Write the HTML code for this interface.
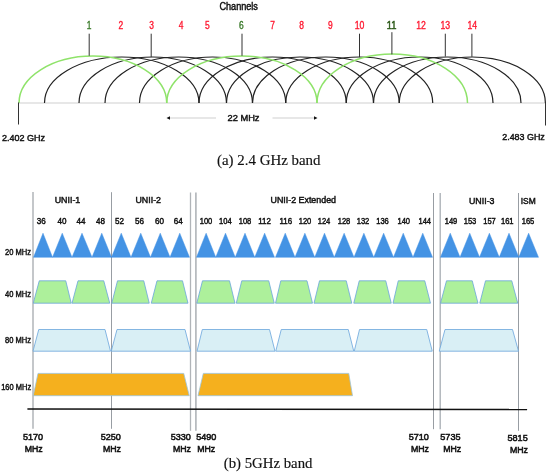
<!DOCTYPE html>
<html><head><meta charset="utf-8"><title>WiFi channels</title>
<style>html,body{margin:0;padding:0;background:#fff}svg{display:block}.s{font-family:"Liberation Sans",Arial,sans-serif;fill:#111;stroke:#111;stroke-width:.45px}.r{font-family:"Liberation Serif","Times New Roman",serif;fill:#111;stroke:#111;stroke-width:.15px}</style></head><body>
<svg width="548" height="472" viewBox="0 0 548 472">
<rect width="548" height="472" fill="#fff"/>
<line x1="18" y1="103" x2="546" y2="103" stroke="#cfcfcf" stroke-width="1"/>
<path d="M44.5 103A77.25 46 0 0 1 199 103" fill="none" stroke="#222" stroke-width="1.2"/>
<path d="M79 103A73.75 46 0 0 1 226.5 103" fill="none" stroke="#222" stroke-width="1.2"/>
<path d="M105 103A73.75 46 0 0 1 252.5 103" fill="none" stroke="#222" stroke-width="1.2"/>
<path d="M139.5 103A73.125 46 0 0 1 285.75 103" fill="none" stroke="#222" stroke-width="1.2"/>
<path d="M199 103A73.625 46 0 0 1 346.25 103" fill="none" stroke="#222" stroke-width="1.2"/>
<path d="M226.5 103A73.5 46 0 0 1 373.5 103" fill="none" stroke="#222" stroke-width="1.2"/>
<path d="M252.5 103A73.375 46 0 0 1 399.25 103" fill="none" stroke="#222" stroke-width="1.2"/>
<path d="M285.75 103A73.5 46 0 0 1 432.75 103" fill="none" stroke="#222" stroke-width="1.2"/>
<path d="M346.25 103A73.375 46 0 0 1 493 103" fill="none" stroke="#222" stroke-width="1.2"/>
<path d="M373.5 103A73.75 46 0 0 1 521 103" fill="none" stroke="#222" stroke-width="1.2"/>
<path d="M399.25 103A73.07499999999999 46 0 0 1 545.4 103" fill="none" stroke="#222" stroke-width="1.2"/>
<path d="M19 103A73.875 47 0 0 1 166.75 103" fill="none" stroke="#8fe36a" stroke-width="1.5"/>
<path d="M166.75 103A75.125 47 0 0 1 317 103" fill="none" stroke="#8fe36a" stroke-width="1.5"/>
<path d="M317 103A75.25 49 0 0 1 467.5 103" fill="none" stroke="#8fe36a" stroke-width="1.5"/>
<line x1="89.2" y1="33.7" x2="89.2" y2="55.8" stroke="#333" stroke-width="1"/>
<line x1="151.2" y1="33.7" x2="151.2" y2="57" stroke="#333" stroke-width="1"/>
<line x1="242" y1="33.7" x2="242" y2="55.8" stroke="#333" stroke-width="1"/>
<line x1="359.5" y1="33.7" x2="359.5" y2="57.2" stroke="#333" stroke-width="1"/>
<line x1="391.9" y1="32.2" x2="391.9" y2="54.4" stroke="#333" stroke-width="1"/>
<line x1="445.3" y1="33.7" x2="445.3" y2="56.6" stroke="#333" stroke-width="1"/>
<line x1="471.9" y1="33.7" x2="471.9" y2="56.8" stroke="#333" stroke-width="1"/>
<line x1="18.5" y1="102.5" x2="18.5" y2="124.5" stroke="#333" stroke-width="1"/>
<line x1="545.5" y1="102.5" x2="545.5" y2="125.5" stroke="#333" stroke-width="1"/>
<text class="s" x="89" y="28.8" font-size="10.3" text-anchor="middle" textLength="4.7" lengthAdjust="spacingAndGlyphs" style="fill:#3a7a2a;stroke:#3a7a2a;stroke-width:.35px">1</text>
<text class="s" x="120.8" y="28.8" font-size="10.3" text-anchor="middle" textLength="4.7" lengthAdjust="spacingAndGlyphs" style="fill:#ff1830;stroke:#ff1830;stroke-width:.35px">2</text>
<text class="s" x="151.5" y="28.8" font-size="10.3" text-anchor="middle" textLength="4.7" lengthAdjust="spacingAndGlyphs" style="fill:#ff1830;stroke:#ff1830;stroke-width:.35px">3</text>
<text class="s" x="181" y="28.8" font-size="10.3" text-anchor="middle" textLength="4.7" lengthAdjust="spacingAndGlyphs" style="fill:#ff1830;stroke:#ff1830;stroke-width:.35px">4</text>
<text class="s" x="207.3" y="28.8" font-size="10.3" text-anchor="middle" textLength="4.7" lengthAdjust="spacingAndGlyphs" style="fill:#ff1830;stroke:#ff1830;stroke-width:.35px">5</text>
<text class="s" x="241.3" y="28.8" font-size="10.3" text-anchor="middle" textLength="4.7" lengthAdjust="spacingAndGlyphs" style="fill:#3a7a2a;stroke:#3a7a2a;stroke-width:.35px">6</text>
<text class="s" x="272.5" y="28.8" font-size="10.3" text-anchor="middle" textLength="4.7" lengthAdjust="spacingAndGlyphs" style="fill:#ff1830;stroke:#ff1830;stroke-width:.35px">7</text>
<text class="s" x="301.6" y="28.8" font-size="10.3" text-anchor="middle" textLength="4.7" lengthAdjust="spacingAndGlyphs" style="fill:#ff1830;stroke:#ff1830;stroke-width:.35px">8</text>
<text class="s" x="330.4" y="28.8" font-size="10.3" text-anchor="middle" textLength="4.7" lengthAdjust="spacingAndGlyphs" style="fill:#ff1830;stroke:#ff1830;stroke-width:.35px">9</text>
<text class="s" x="359.6" y="28.8" font-size="10.3" text-anchor="middle" textLength="9.7" lengthAdjust="spacingAndGlyphs" style="fill:#ff1830;stroke:#ff1830;stroke-width:.35px">10</text>
<text class="s" x="391.5" y="28.8" font-size="10.3" text-anchor="middle" textLength="9.7" lengthAdjust="spacingAndGlyphs" style="fill:#2d5a1a;stroke:#2d5a1a;stroke-width:.5px">11</text>
<text class="s" x="421" y="28.8" font-size="10.3" text-anchor="middle" textLength="9.7" lengthAdjust="spacingAndGlyphs" style="fill:#ff1830;stroke:#ff1830;stroke-width:.35px">12</text>
<text class="s" x="445.3" y="28.8" font-size="10.3" text-anchor="middle" textLength="9.7" lengthAdjust="spacingAndGlyphs" style="fill:#ff1830;stroke:#ff1830;stroke-width:.35px">13</text>
<text class="s" x="472.3" y="28.8" font-size="10.3" text-anchor="middle" textLength="9.7" lengthAdjust="spacingAndGlyphs" style="fill:#ff1830;stroke:#ff1830;stroke-width:.35px">14</text>
<text class="s" x="238.7" y="9.5" font-size="10" text-anchor="middle" textLength="38.5" lengthAdjust="spacingAndGlyphs">Channels</text>
<line x1="168" y1="118" x2="216" y2="118" stroke="#cfcfcf" stroke-width="1"/><path d="M166.5 118l3.5-1.8v3.6z" fill="#111"/>
<line x1="272.5" y1="118" x2="316" y2="118" stroke="#cfcfcf" stroke-width="1"/><path d="M317.5 118l-3.5-1.8v3.6z" fill="#111"/>
<text class="s" x="243.5" y="121.3" font-size="9.2" text-anchor="middle" textLength="32" lengthAdjust="spacingAndGlyphs">22 MHz</text>
<text class="s" x="23.5" y="140.8" font-size="9.2" text-anchor="middle" textLength="43" lengthAdjust="spacingAndGlyphs">2.402 GHz</text>
<text class="s" x="523.5" y="139.8" font-size="9.2" text-anchor="middle" textLength="42.5" lengthAdjust="spacingAndGlyphs">2.483 GHz</text>
<text class="r" x="268.75" y="164.5" font-size="14.8" text-anchor="middle" textLength="103.5" lengthAdjust="spacingAndGlyphs">(a) 2.4 GHz band</text>
<line x1="33" y1="192" x2="33" y2="428.8" stroke="#b0b4b8" stroke-width="1.5"/>
<line x1="111.5" y1="192.2" x2="111.5" y2="428.8" stroke="#8c9298" stroke-width="0.9"/>
<line x1="190.5" y1="192.5" x2="190.5" y2="430.8" stroke="#b0b4b8" stroke-width="1.3"/>
<line x1="195.9" y1="192.5" x2="195.9" y2="430.8" stroke="#b4b8bc" stroke-width="1.7"/>
<line x1="433.5" y1="193" x2="433.5" y2="429.2" stroke="#8c9298" stroke-width="0.9"/>
<line x1="440.2" y1="193" x2="440.2" y2="429.2" stroke="#a8aeb4" stroke-width="1.3"/>
<line x1="518.5" y1="193" x2="518.5" y2="430.8" stroke="#8c9298" stroke-width="0.9"/>
<path d="M33.5 257.3L43.0 233.2L52.5 257.3ZM52.5 257.3L62.25 233.2L72 257.3ZM72 257.3L82.0 233.2L92 257.3ZM92 257.3L101.75 233.2L111.5 257.3ZM111.5 257.3L121.25 233.2L131 257.3ZM131 257.3L140.75 233.2L150.5 257.3ZM150.5 257.3L160.25 233.2L170 257.3ZM170 257.3L179.75 233.2L189.5 257.3ZM196.5 257.3L206.125 233.2L215.75 257.3ZM215.75 257.3L225.5 233.2L235.25 257.3ZM235.25 257.3L245.0 233.2L254.75 257.3ZM254.75 257.3L264.625 233.2L274.5 257.3ZM275.5 257.3L285.25 233.2L295 257.3ZM295 257.3L304.875 233.2L314.75 257.3ZM314.75 257.3L324.5 233.2L334.25 257.3ZM334.25 257.3L344.125 233.2L354 257.3ZM354 257.3L363.875 233.2L373.75 257.3ZM373.75 257.3L383.625 233.2L393.5 257.3ZM393.5 257.3L403.25 233.2L413 257.3ZM413 257.3L422.75 233.2L432.5 257.3ZM440.5 257.3L450.25 233.2L460 257.3ZM460 257.3L469.75 233.2L479.5 257.3ZM479.5 257.3L489.375 233.2L499.25 257.3ZM499.25 257.3L509.0 233.2L518.75 257.3ZM518.75 257.3L528.625 233.2L538.5 257.3Z" fill="#4493e4" stroke="#4493e4" stroke-width="0.5"/>
<path d="M33.25 303.2L39.25 280.8L65.75 280.8L71.25 303.2ZM72 303.2L78 280.8L103.75 280.8L109.75 303.2ZM111.75 303.2L117.5 280.8L143.75 280.8L149.25 303.2ZM151.25 303.2L157 280.8L182.5 280.8L188 303.2ZM196.75 303.2L202.5 280.8L229.5 280.8L235 303.2ZM236.25 303.2L241.75 280.8L268.75 280.8L274.25 303.2ZM275.5 303.2L280.75 280.8L307 280.8L312.5 303.2ZM314 303.2L319.5 280.8L346.25 280.8L351.75 303.2ZM353.75 303.2L359.25 280.8L385.75 280.8L391.25 303.2ZM393 303.2L398.25 280.8L424.75 280.8L430.5 303.2ZM440.5 303.2L446.5 280.8L472.25 280.8L478 303.2ZM479.75 303.2L485.5 280.8L511.75 280.8L517.75 303.2Z" fill="#adf09b" stroke="#6aa5dc" stroke-width="0.8"/>
<path d="M33 351.2L38.75 329.5L105 329.5L110.5 351.2ZM111.25 351.2L117 329.5L185 329.5L190.5 351.2ZM197 351.2L202.3 329.5L269.5 329.5L275 351.2ZM275.75 351.2L281.25 329.5L348.25 329.5L353.75 351.2ZM354.25 351.2L359.5 329.5L426.75 329.5L432.25 351.2ZM439.25 351.2L445 329.5L512.5 329.5L518.5 351.2Z" fill="#d9eff5" stroke="#6aa5dc" stroke-width="0.8"/>
<path d="M33.25 395.7L38 373.4L183.75 373.4L189.25 395.7ZM198 395.7L203.3 373.4L348.75 373.4L352.5 395.7Z" fill="#f5b01e" stroke="#9cc4dc" stroke-width="0.8"/>
<line x1="27.4" y1="408.9" x2="527.1" y2="409.6" stroke="#111" stroke-width="1.5"/>
<text class="s" x="67.5" y="203.4" font-size="8.8" text-anchor="middle" textLength="25.5" lengthAdjust="spacingAndGlyphs">UNII-1</text>
<text class="s" x="148.25" y="203.4" font-size="8.8" text-anchor="middle" textLength="25.5" lengthAdjust="spacingAndGlyphs">UNII-2</text>
<text class="s" x="303.25" y="203.4" font-size="8.8" text-anchor="middle" textLength="65.5" lengthAdjust="spacingAndGlyphs">UNII-2 Extended</text>
<text class="s" x="481.75" y="204.2" font-size="8.8" text-anchor="middle" textLength="25.5" lengthAdjust="spacingAndGlyphs">UNII-3</text>
<text class="s" x="528.25" y="204.2" font-size="8.8" text-anchor="middle" textLength="15" lengthAdjust="spacingAndGlyphs">ISM</text>
<text class="s" x="41.25" y="224.0" font-size="8.6" text-anchor="middle" textLength="9.0" lengthAdjust="spacingAndGlyphs">36</text>
<text class="s" x="62" y="224.0" font-size="8.6" text-anchor="middle" textLength="9.0" lengthAdjust="spacingAndGlyphs">40</text>
<text class="s" x="81" y="224.0" font-size="8.6" text-anchor="middle" textLength="9.0" lengthAdjust="spacingAndGlyphs">44</text>
<text class="s" x="100.5" y="224.0" font-size="8.6" text-anchor="middle" textLength="9.0" lengthAdjust="spacingAndGlyphs">48</text>
<text class="s" x="119.5" y="224.0" font-size="8.6" text-anchor="middle" textLength="9.0" lengthAdjust="spacingAndGlyphs">52</text>
<text class="s" x="139.5" y="224.0" font-size="8.6" text-anchor="middle" textLength="9.0" lengthAdjust="spacingAndGlyphs">56</text>
<text class="s" x="159.5" y="224.0" font-size="8.6" text-anchor="middle" textLength="9.0" lengthAdjust="spacingAndGlyphs">60</text>
<text class="s" x="178.25" y="224.0" font-size="8.6" text-anchor="middle" textLength="9.0" lengthAdjust="spacingAndGlyphs">64</text>
<text class="s" x="206" y="224.0" font-size="8.6" text-anchor="middle" textLength="12.6" lengthAdjust="spacingAndGlyphs">100</text>
<text class="s" x="225.4" y="224.0" font-size="8.6" text-anchor="middle" textLength="12.6" lengthAdjust="spacingAndGlyphs">104</text>
<text class="s" x="245" y="224.0" font-size="8.6" text-anchor="middle" textLength="12.6" lengthAdjust="spacingAndGlyphs">108</text>
<text class="s" x="264.5" y="224.0" font-size="8.6" text-anchor="middle" textLength="12.6" lengthAdjust="spacingAndGlyphs">112</text>
<text class="s" x="285.75" y="224.0" font-size="8.6" text-anchor="middle" textLength="12.6" lengthAdjust="spacingAndGlyphs">116</text>
<text class="s" x="305" y="224.0" font-size="8.6" text-anchor="middle" textLength="12.6" lengthAdjust="spacingAndGlyphs">120</text>
<text class="s" x="324" y="224.0" font-size="8.6" text-anchor="middle" textLength="12.6" lengthAdjust="spacingAndGlyphs">124</text>
<text class="s" x="344" y="224.0" font-size="8.6" text-anchor="middle" textLength="12.6" lengthAdjust="spacingAndGlyphs">128</text>
<text class="s" x="363" y="224.0" font-size="8.6" text-anchor="middle" textLength="12.6" lengthAdjust="spacingAndGlyphs">132</text>
<text class="s" x="382.5" y="224.0" font-size="8.6" text-anchor="middle" textLength="12.6" lengthAdjust="spacingAndGlyphs">136</text>
<text class="s" x="403.75" y="224.0" font-size="8.6" text-anchor="middle" textLength="12.6" lengthAdjust="spacingAndGlyphs">140</text>
<text class="s" x="424.75" y="224.0" font-size="8.6" text-anchor="middle" textLength="12.6" lengthAdjust="spacingAndGlyphs">144</text>
<text class="s" x="451" y="224.0" font-size="8.6" text-anchor="middle" textLength="12.6" lengthAdjust="spacingAndGlyphs">149</text>
<text class="s" x="470" y="224.0" font-size="8.6" text-anchor="middle" textLength="12.6" lengthAdjust="spacingAndGlyphs">153</text>
<text class="s" x="489.5" y="224.0" font-size="8.6" text-anchor="middle" textLength="12.6" lengthAdjust="spacingAndGlyphs">157</text>
<text class="s" x="507.25" y="224.0" font-size="8.6" text-anchor="middle" textLength="12.6" lengthAdjust="spacingAndGlyphs">161</text>
<text class="s" x="528" y="224.0" font-size="8.6" text-anchor="middle" textLength="12.6" lengthAdjust="spacingAndGlyphs">165</text>
<text class="s" x="18" y="254.7" font-size="8.8" text-anchor="middle" textLength="26" lengthAdjust="spacingAndGlyphs">20 MHz</text>
<text class="s" x="18" y="296.8" font-size="8.8" text-anchor="middle" textLength="26" lengthAdjust="spacingAndGlyphs">40 MHz</text>
<text class="s" x="18" y="342.6" font-size="8.8" text-anchor="middle" textLength="26" lengthAdjust="spacingAndGlyphs">80 MHz</text>
<text class="s" x="16.2" y="389.6" font-size="8.8" text-anchor="middle" textLength="30" lengthAdjust="spacingAndGlyphs">160 MHz</text>
<text class="s" x="33" y="440" font-size="9.6" text-anchor="middle" textLength="20.2" lengthAdjust="spacingAndGlyphs" style="stroke-width:.55px">5170</text>
<text class="s" x="110.75" y="440" font-size="9.6" text-anchor="middle" textLength="20.2" lengthAdjust="spacingAndGlyphs" style="stroke-width:.55px">5250</text>
<text class="s" x="180.75" y="440" font-size="9.6" text-anchor="middle" textLength="20.2" lengthAdjust="spacingAndGlyphs" style="stroke-width:.55px">5330</text>
<text class="s" x="206.25" y="440" font-size="9.6" text-anchor="middle" textLength="20.2" lengthAdjust="spacingAndGlyphs" style="stroke-width:.55px">5490</text>
<text class="s" x="418.8" y="440.1" font-size="9.6" text-anchor="middle" textLength="20.2" lengthAdjust="spacingAndGlyphs" style="stroke-width:.55px">5710</text>
<text class="s" x="450.4" y="440.1" font-size="9.6" text-anchor="middle" textLength="20.2" lengthAdjust="spacingAndGlyphs" style="stroke-width:.55px">5735</text>
<text class="s" x="517.6" y="441" font-size="9.6" text-anchor="middle" textLength="20.2" lengthAdjust="spacingAndGlyphs" style="stroke-width:.55px">5815</text>
<text class="s" x="33.75" y="452" font-size="9.4" text-anchor="middle" textLength="18" lengthAdjust="spacingAndGlyphs" style="stroke-width:.55px">MHz</text>
<text class="s" x="112" y="452" font-size="9.4" text-anchor="middle" textLength="18" lengthAdjust="spacingAndGlyphs" style="stroke-width:.55px">MHz</text>
<text class="s" x="181.9" y="452" font-size="9.4" text-anchor="middle" textLength="18" lengthAdjust="spacingAndGlyphs" style="stroke-width:.55px">MHz</text>
<text class="s" x="206.25" y="452" font-size="9.4" text-anchor="middle" textLength="18" lengthAdjust="spacingAndGlyphs" style="stroke-width:.55px">MHz</text>
<text class="s" x="419.9" y="451.5" font-size="9.4" text-anchor="middle" textLength="18" lengthAdjust="spacingAndGlyphs" style="stroke-width:.55px">MHz</text>
<text class="s" x="452.2" y="451.5" font-size="9.4" text-anchor="middle" textLength="18" lengthAdjust="spacingAndGlyphs" style="stroke-width:.55px">MHz</text>
<text class="s" x="519" y="453" font-size="9.4" text-anchor="middle" textLength="18" lengthAdjust="spacingAndGlyphs" style="stroke-width:.55px">MHz</text>
<text class="r" x="268.1" y="468.2" font-size="14.8" text-anchor="middle" textLength="88.75" lengthAdjust="spacingAndGlyphs">(b) 5GHz band</text>
</svg>
</body></html>
